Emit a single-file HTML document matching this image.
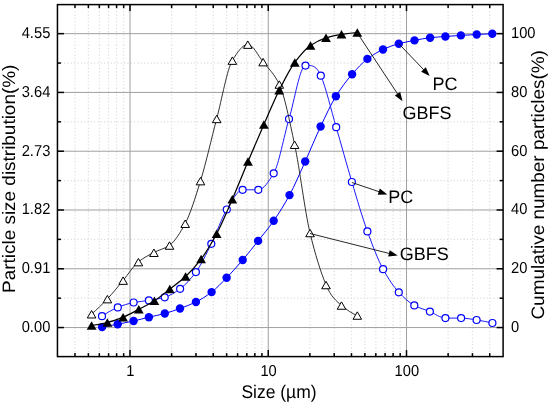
<!DOCTYPE html>
<html><head><meta charset="utf-8"><title>Particle size distribution</title>
<style>
html,body{margin:0;padding:0;background:#fff;}
body{width:550px;height:405px;overflow:hidden;}
svg{display:block;}
</style></head>
<body>
<svg width="550" height="405" viewBox="0 0 550 405">
<rect width="550" height="405" fill="#fff"/>
<g stroke="#dadada" stroke-width="1.2" stroke-dasharray="1.1,2.23" fill="none">
<line x1="74.98" y1="4.6" x2="74.98" y2="356.6"/>
<line x1="88.38" y1="4.6" x2="88.38" y2="356.6"/>
<line x1="99.33" y1="4.6" x2="99.33" y2="356.6"/>
<line x1="108.58" y1="4.6" x2="108.58" y2="356.6"/>
<line x1="116.6" y1="4.6" x2="116.6" y2="356.6"/>
<line x1="123.67" y1="4.6" x2="123.67" y2="356.6"/>
<line x1="171.62" y1="4.6" x2="171.62" y2="356.6"/>
<line x1="195.96" y1="4.6" x2="195.96" y2="356.6"/>
<line x1="213.23" y1="4.6" x2="213.23" y2="356.6"/>
<line x1="226.63" y1="4.6" x2="226.63" y2="356.6"/>
<line x1="237.58" y1="4.6" x2="237.58" y2="356.6"/>
<line x1="246.83" y1="4.6" x2="246.83" y2="356.6"/>
<line x1="254.85" y1="4.6" x2="254.85" y2="356.6"/>
<line x1="261.92" y1="4.6" x2="261.92" y2="356.6"/>
<line x1="309.87" y1="4.6" x2="309.87" y2="356.6"/>
<line x1="334.21" y1="4.6" x2="334.21" y2="356.6"/>
<line x1="351.48" y1="4.6" x2="351.48" y2="356.6"/>
<line x1="364.88" y1="4.6" x2="364.88" y2="356.6"/>
<line x1="375.83" y1="4.6" x2="375.83" y2="356.6"/>
<line x1="385.08" y1="4.6" x2="385.08" y2="356.6"/>
<line x1="393.1" y1="4.6" x2="393.1" y2="356.6"/>
<line x1="400.17" y1="4.6" x2="400.17" y2="356.6"/>
<line x1="448.12" y1="4.6" x2="448.12" y2="356.6"/>
<line x1="472.46" y1="4.6" x2="472.46" y2="356.6"/>
<line x1="489.73" y1="4.6" x2="489.73" y2="356.6"/>
<line x1="57.45" y1="298.16" x2="503.1" y2="298.16"/>
<line x1="57.45" y1="239.38" x2="503.1" y2="239.38"/>
<line x1="57.45" y1="180.6" x2="503.1" y2="180.6"/>
<line x1="57.45" y1="121.82" x2="503.1" y2="121.82"/>
<line x1="57.45" y1="63.04" x2="503.1" y2="63.04"/>
</g>
<g stroke="#a0a0a0" stroke-width="1" fill="none">
<line x1="130" y1="4.6" x2="130" y2="356.6"/>
<line x1="268.25" y1="4.6" x2="268.25" y2="356.6"/>
<line x1="406.5" y1="4.6" x2="406.5" y2="356.6"/>
<line x1="57.45" y1="327.55" x2="503.1" y2="327.55"/>
<line x1="57.45" y1="268.77" x2="503.1" y2="268.77"/>
<line x1="57.45" y1="209.99" x2="503.1" y2="209.99"/>
<line x1="57.45" y1="151.21" x2="503.1" y2="151.21"/>
<line x1="57.45" y1="92.43" x2="503.1" y2="92.43"/>
<line x1="57.45" y1="33.65" x2="503.1" y2="33.65"/>
</g>
<g stroke="#000" stroke-width="1.5" fill="none">
<line x1="74.98" y1="356.6" x2="74.98" y2="353.1"/>
<line x1="74.98" y1="4.6" x2="74.98" y2="8.1"/>
<line x1="88.38" y1="356.6" x2="88.38" y2="353.1"/>
<line x1="88.38" y1="4.6" x2="88.38" y2="8.1"/>
<line x1="99.33" y1="356.6" x2="99.33" y2="353.1"/>
<line x1="99.33" y1="4.6" x2="99.33" y2="8.1"/>
<line x1="108.58" y1="356.6" x2="108.58" y2="353.1"/>
<line x1="108.58" y1="4.6" x2="108.58" y2="8.1"/>
<line x1="116.6" y1="356.6" x2="116.6" y2="353.1"/>
<line x1="116.6" y1="4.6" x2="116.6" y2="8.1"/>
<line x1="123.67" y1="356.6" x2="123.67" y2="353.1"/>
<line x1="123.67" y1="4.6" x2="123.67" y2="8.1"/>
<line x1="130" y1="356.6" x2="130" y2="350.1"/>
<line x1="130" y1="4.6" x2="130" y2="11.1"/>
<line x1="171.62" y1="356.6" x2="171.62" y2="353.1"/>
<line x1="171.62" y1="4.6" x2="171.62" y2="8.1"/>
<line x1="195.96" y1="356.6" x2="195.96" y2="353.1"/>
<line x1="195.96" y1="4.6" x2="195.96" y2="8.1"/>
<line x1="213.23" y1="356.6" x2="213.23" y2="353.1"/>
<line x1="213.23" y1="4.6" x2="213.23" y2="8.1"/>
<line x1="226.63" y1="356.6" x2="226.63" y2="353.1"/>
<line x1="226.63" y1="4.6" x2="226.63" y2="8.1"/>
<line x1="237.58" y1="356.6" x2="237.58" y2="353.1"/>
<line x1="237.58" y1="4.6" x2="237.58" y2="8.1"/>
<line x1="246.83" y1="356.6" x2="246.83" y2="353.1"/>
<line x1="246.83" y1="4.6" x2="246.83" y2="8.1"/>
<line x1="254.85" y1="356.6" x2="254.85" y2="353.1"/>
<line x1="254.85" y1="4.6" x2="254.85" y2="8.1"/>
<line x1="261.92" y1="356.6" x2="261.92" y2="353.1"/>
<line x1="261.92" y1="4.6" x2="261.92" y2="8.1"/>
<line x1="268.25" y1="356.6" x2="268.25" y2="350.1"/>
<line x1="268.25" y1="4.6" x2="268.25" y2="11.1"/>
<line x1="309.87" y1="356.6" x2="309.87" y2="353.1"/>
<line x1="309.87" y1="4.6" x2="309.87" y2="8.1"/>
<line x1="334.21" y1="356.6" x2="334.21" y2="353.1"/>
<line x1="334.21" y1="4.6" x2="334.21" y2="8.1"/>
<line x1="351.48" y1="356.6" x2="351.48" y2="353.1"/>
<line x1="351.48" y1="4.6" x2="351.48" y2="8.1"/>
<line x1="364.88" y1="356.6" x2="364.88" y2="353.1"/>
<line x1="364.88" y1="4.6" x2="364.88" y2="8.1"/>
<line x1="375.83" y1="356.6" x2="375.83" y2="353.1"/>
<line x1="375.83" y1="4.6" x2="375.83" y2="8.1"/>
<line x1="385.08" y1="356.6" x2="385.08" y2="353.1"/>
<line x1="385.08" y1="4.6" x2="385.08" y2="8.1"/>
<line x1="393.1" y1="356.6" x2="393.1" y2="353.1"/>
<line x1="393.1" y1="4.6" x2="393.1" y2="8.1"/>
<line x1="400.17" y1="356.6" x2="400.17" y2="353.1"/>
<line x1="400.17" y1="4.6" x2="400.17" y2="8.1"/>
<line x1="406.5" y1="356.6" x2="406.5" y2="350.1"/>
<line x1="406.5" y1="4.6" x2="406.5" y2="11.1"/>
<line x1="448.12" y1="356.6" x2="448.12" y2="353.1"/>
<line x1="448.12" y1="4.6" x2="448.12" y2="8.1"/>
<line x1="472.46" y1="356.6" x2="472.46" y2="353.1"/>
<line x1="472.46" y1="4.6" x2="472.46" y2="8.1"/>
<line x1="489.73" y1="356.6" x2="489.73" y2="353.1"/>
<line x1="489.73" y1="4.6" x2="489.73" y2="8.1"/>
<line x1="57.45" y1="327.55" x2="63.95" y2="327.55"/>
<line x1="503.1" y1="327.55" x2="496.6" y2="327.55"/>
<line x1="57.45" y1="298.16" x2="60.95" y2="298.16"/>
<line x1="503.1" y1="298.16" x2="499.6" y2="298.16"/>
<line x1="57.45" y1="268.77" x2="63.95" y2="268.77"/>
<line x1="503.1" y1="268.77" x2="496.6" y2="268.77"/>
<line x1="57.45" y1="239.38" x2="60.95" y2="239.38"/>
<line x1="503.1" y1="239.38" x2="499.6" y2="239.38"/>
<line x1="57.45" y1="209.99" x2="63.95" y2="209.99"/>
<line x1="503.1" y1="209.99" x2="496.6" y2="209.99"/>
<line x1="57.45" y1="180.6" x2="60.95" y2="180.6"/>
<line x1="503.1" y1="180.6" x2="499.6" y2="180.6"/>
<line x1="57.45" y1="151.21" x2="63.95" y2="151.21"/>
<line x1="503.1" y1="151.21" x2="496.6" y2="151.21"/>
<line x1="57.45" y1="121.82" x2="60.95" y2="121.82"/>
<line x1="503.1" y1="121.82" x2="499.6" y2="121.82"/>
<line x1="57.45" y1="92.43" x2="63.95" y2="92.43"/>
<line x1="503.1" y1="92.43" x2="496.6" y2="92.43"/>
<line x1="57.45" y1="63.04" x2="60.95" y2="63.04"/>
<line x1="503.1" y1="63.04" x2="499.6" y2="63.04"/>
<line x1="57.45" y1="33.65" x2="63.95" y2="33.65"/>
<line x1="503.1" y1="33.65" x2="496.6" y2="33.65"/>
</g>
<path d="M102.1,327.1 C107.3,326.17 112.5,325.2 117.7,324.2 C123,323.18 128.3,322.18 133.6,321 C138.7,319.87 143.8,318.43 148.9,317.2 C154.2,315.93 159.5,314.95 164.8,313.5 C169.87,312.12 174.93,310.35 180,308.5 C185.3,306.57 190.6,304.63 195.9,302 C201.13,299.4 206.37,296.08 211.6,292.1 C216.6,288.3 221.6,282.91 226.6,277.8 C231.97,272.31 237.33,266.28 242.7,260 C247.83,254 252.97,247.39 258.1,240.9 C263.3,234.33 268.5,228.28 273.7,220.8 C278.97,213.23 284.23,204.84 289.5,195.1 C294.73,185.43 299.97,173.04 305.2,161.5 C310.33,150.18 315.47,137.34 320.6,126.5 C325.7,115.73 330.8,104.54 335.9,96.3 C341.3,87.57 346.7,80.42 352.1,74.2 C357.2,68.32 362.3,62.74 367.4,58.9 C372.6,54.99 377.8,51.87 383,49.5 C388.27,47.1 393.53,45.11 398.8,43.7 C404.03,42.3 409.27,41.39 414.5,40.4 C419.7,39.41 424.9,38.26 430.1,37.7 C435.2,37.15 440.3,36.88 445.4,36.5 C450.57,36.11 455.73,35.73 460.9,35.4 C466.17,35.07 471.43,34.78 476.7,34.5 C481.9,34.22 487.1,33.95 492.3,33.7" fill="none" stroke="#0000ff" stroke-width="1.0"/>
<g fill="#0000ff">
<circle cx="102.1" cy="327.1" r="4.2"/>
<circle cx="117.7" cy="324.2" r="4.2"/>
<circle cx="133.6" cy="321" r="4.2"/>
<circle cx="148.9" cy="317.2" r="4.2"/>
<circle cx="164.8" cy="313.5" r="4.2"/>
<circle cx="180" cy="308.5" r="4.2"/>
<circle cx="195.9" cy="302" r="4.2"/>
<circle cx="211.6" cy="292.1" r="4.2"/>
<circle cx="226.6" cy="277.8" r="4.2"/>
<circle cx="242.7" cy="260" r="4.2"/>
<circle cx="258.1" cy="240.9" r="4.2"/>
<circle cx="273.7" cy="220.8" r="4.2"/>
<circle cx="289.5" cy="195.1" r="4.2"/>
<circle cx="305.2" cy="161.5" r="4.2"/>
<circle cx="320.6" cy="126.5" r="4.2"/>
<circle cx="335.9" cy="96.3" r="4.2"/>
<circle cx="352.1" cy="74.2" r="4.2"/>
<circle cx="367.4" cy="58.9" r="4.2"/>
<circle cx="383" cy="49.5" r="4.2"/>
<circle cx="398.8" cy="43.7" r="4.2"/>
<circle cx="414.5" cy="40.4" r="4.2"/>
<circle cx="430.1" cy="37.7" r="4.2"/>
<circle cx="445.4" cy="36.5" r="4.2"/>
<circle cx="460.9" cy="35.4" r="4.2"/>
<circle cx="476.7" cy="34.5" r="4.2"/>
<circle cx="492.3" cy="33.7" r="4.2"/>
</g>
<path d="M102,316.2 C107.27,312.62 112.53,309.5 117.8,307.4 C123.07,305.3 128.33,303.5 133.6,302.5 C138.7,301.53 143.8,301.22 148.9,300.4 C154.17,299.55 159.43,298.83 164.7,297.3 C169.83,295.81 174.97,292.52 180.1,288.8 C185.37,284.99 190.63,279.18 195.9,272.1 C201.03,265.2 206.17,254.11 211.3,243.8 C216.47,233.43 221.63,217.75 226.8,209.5 C232.07,201.09 237.33,189.8 242.6,189.8 C247.83,189.8 253.07,189.8 258.3,189.8 C263.43,189.8 268.57,181.75 273.7,173.3 C278.8,164.9 283.9,136.28 289,119 C294.5,100.37 300,65.6 305.5,65.6 C310.6,65.6 315.7,63.97 320.8,75.7 C325.93,87.51 331.07,109.67 336.2,127.2 C341.43,145.07 346.67,164.56 351.9,182 C357.07,199.21 362.23,217.22 367.4,231.4 C372.63,245.76 377.87,259.64 383.1,269.2 C388.33,278.76 393.57,286.68 398.8,292.3 C403.97,297.84 409.13,302.61 414.3,305.4 C419.5,308.21 424.7,309.48 429.9,311.6 C435.07,313.71 440.23,318.1 445.4,318.1 C450.63,318.1 455.87,318.1 461.1,318.1 C466.27,318.1 471.43,319.23 476.6,320 C481.87,320.78 487.13,321.82 492.4,323" fill="none" stroke="#1a1aff" stroke-width="1.0"/>
<g fill="#fff" stroke="#0000ff" stroke-width="1.2">
<circle cx="102" cy="316.2" r="3.5"/>
<circle cx="117.8" cy="307.4" r="3.5"/>
<circle cx="133.6" cy="302.5" r="3.5"/>
<circle cx="148.9" cy="300.4" r="3.5"/>
<circle cx="164.7" cy="297.3" r="3.5"/>
<circle cx="180.1" cy="288.8" r="3.5"/>
<circle cx="195.9" cy="272.1" r="3.5"/>
<circle cx="211.3" cy="243.8" r="3.5"/>
<circle cx="226.8" cy="209.5" r="3.5"/>
<circle cx="242.6" cy="189.8" r="3.5"/>
<circle cx="258.3" cy="189.8" r="3.5"/>
<circle cx="273.7" cy="173.3" r="3.5"/>
<circle cx="289" cy="119" r="3.5"/>
<circle cx="305.5" cy="65.6" r="3.5"/>
<circle cx="320.8" cy="75.7" r="3.5"/>
<circle cx="336.2" cy="127.2" r="3.5"/>
<circle cx="351.9" cy="182" r="3.5"/>
<circle cx="367.4" cy="231.4" r="3.5"/>
<circle cx="383.1" cy="269.2" r="3.5"/>
<circle cx="398.8" cy="292.3" r="3.5"/>
<circle cx="414.3" cy="305.4" r="3.5"/>
<circle cx="429.9" cy="311.6" r="3.5"/>
<circle cx="445.4" cy="318.1" r="3.5"/>
<circle cx="461.1" cy="318.1" r="3.5"/>
<circle cx="476.6" cy="320" r="3.5"/>
<circle cx="492.4" cy="323" r="3.5"/>
</g>
<path d="M91.6,314 C96.87,309.55 102.13,304.46 107.4,298.9 C112.63,293.38 117.87,286.65 123.1,280.4 C128.2,274.31 133.3,266.02 138.4,261.9 C143.57,257.72 148.73,255.21 153.9,252.5 C159.1,249.77 164.3,248.9 169.5,245.3 C174.73,241.68 179.97,233.21 185.2,223.5 C190.3,214.04 195.4,197.34 200.5,180.9 C205.9,163.5 211.3,139.09 216.7,118.7 C221.93,98.94 227.17,68.88 232.4,60.4 C237.53,52.08 242.67,44.4 247.8,44.4 C252.9,44.4 258,55.52 263.1,61.9 C268.5,68.65 273.9,73.2 279.3,84.3 C284.4,94.78 289.5,120.7 294.6,144.5 C299.73,168.45 304.87,211.47 310,232.8 C315.33,254.96 320.67,272 326,284.8 C331.17,297.2 336.33,300.87 341.5,305.3 C346.77,309.81 352.03,313.8 357.3,315.3" fill="none" stroke="#1a1a1a" stroke-width="0.9"/>
<g fill="#fff" stroke="#000" stroke-width="1">
<path d="M91.6,310.53 L95.9,317.97 L87.3,317.97 Z"/>
<path d="M107.4,295.43 L111.7,302.87 L103.1,302.87 Z"/>
<path d="M123.1,276.93 L127.4,284.37 L118.8,284.37 Z"/>
<path d="M138.4,258.43 L142.7,265.87 L134.1,265.87 Z"/>
<path d="M153.9,249.03 L158.2,256.47 L149.6,256.47 Z"/>
<path d="M169.5,241.83 L173.8,249.27 L165.2,249.27 Z"/>
<path d="M185.2,220.03 L189.5,227.47 L180.9,227.47 Z"/>
<path d="M200.5,177.43 L204.8,184.87 L196.2,184.87 Z"/>
<path d="M216.7,115.23 L221,122.67 L212.4,122.67 Z"/>
<path d="M232.4,56.93 L236.7,64.37 L228.1,64.37 Z"/>
<path d="M247.8,40.93 L252.1,48.37 L243.5,48.37 Z"/>
<path d="M263.1,58.43 L267.4,65.87 L258.8,65.87 Z"/>
<path d="M279.3,80.83 L283.6,88.27 L275,88.27 Z"/>
<path d="M294.6,141.03 L298.9,148.47 L290.3,148.47 Z"/>
<path d="M310,229.33 L314.3,236.77 L305.7,236.77 Z"/>
<path d="M326,281.33 L330.3,288.77 L321.7,288.77 Z"/>
<path d="M341.5,301.83 L345.8,309.27 L337.2,309.27 Z"/>
<path d="M357.3,311.83 L361.6,319.27 L353,319.27 Z"/>
</g>
<path d="M91.6,325.5 C96.87,324.89 102.13,323.78 107.4,322.5 C112.63,321.23 117.87,319.31 123.1,317.2 C128.33,315.09 133.57,312.04 138.8,309.3 C144,306.58 149.2,304.11 154.4,300.8 C159.53,297.53 164.67,293 169.8,289 C175.07,284.9 180.33,281.39 185.6,276.5 C190.77,271.7 195.93,265.97 201.1,259.1 C206.27,252.23 211.43,243.49 216.6,233.8 C221.83,223.99 227.07,211.24 232.3,199.2 C237.53,187.16 242.77,173.77 248,161.4 C253.3,148.87 258.6,136.59 263.9,124.5 C269,112.87 274.1,100.33 279.2,90.2 C284.4,79.87 289.6,69.38 294.8,62.4 C300.03,55.37 305.27,49.05 310.5,45.5 C315.67,41.99 320.83,39.39 326,37.8 C331.17,36.21 336.33,35.14 341.5,34.35 C346.77,33.54 352.03,32.84 357.3,32.5" fill="none" stroke="#000" stroke-width="1.25"/>
<g fill="#000">
<path d="M91.6,321.26 L96.5,329.74 L86.7,329.74 Z"/>
<path d="M107.4,318.26 L112.3,326.74 L102.5,326.74 Z"/>
<path d="M123.1,312.96 L128,321.44 L118.2,321.44 Z"/>
<path d="M138.8,305.06 L143.7,313.54 L133.9,313.54 Z"/>
<path d="M154.4,296.56 L159.3,305.04 L149.5,305.04 Z"/>
<path d="M169.8,284.76 L174.7,293.24 L164.9,293.24 Z"/>
<path d="M185.6,272.26 L190.5,280.74 L180.7,280.74 Z"/>
<path d="M201.1,254.86 L206,263.34 L196.2,263.34 Z"/>
<path d="M216.6,229.56 L221.5,238.04 L211.7,238.04 Z"/>
<path d="M232.3,194.96 L237.2,203.44 L227.4,203.44 Z"/>
<path d="M248,157.16 L252.9,165.64 L243.1,165.64 Z"/>
<path d="M263.9,120.26 L268.8,128.74 L259,128.74 Z"/>
<path d="M279.2,85.96 L284.1,94.44 L274.3,94.44 Z"/>
<path d="M294.8,58.16 L299.7,66.64 L289.9,66.64 Z"/>
<path d="M310.5,41.26 L315.4,49.74 L305.6,49.74 Z"/>
<path d="M326,33.56 L330.9,42.04 L321.1,42.04 Z"/>
<path d="M341.5,30.11 L346.4,38.59 L336.6,38.59 Z"/>
<path d="M357.3,28.26 L362.2,36.74 L352.4,36.74 Z"/>
</g>
<rect x="57.45" y="4.6" width="445.65" height="352" fill="none" stroke="#000" stroke-width="1.5"/>
<line x1="398.8" y1="43.7" x2="424.17" y2="70.22" stroke="#111" stroke-width="0.9"/><path d="M429.7,76 L421.17,71.71 L425.79,67.28 Z" fill="#000"/>
<line x1="357.3" y1="33" x2="398.08" y2="94.63" stroke="#111" stroke-width="0.9"/><path d="M402.5,101.3 L394.86,95.56 L400.2,92.03 Z" fill="#000"/>
<line x1="351.9" y1="182.5" x2="379.72" y2="191.93" stroke="#111" stroke-width="0.9"/><path d="M387.3,194.5 L377.75,194.64 L379.8,188.58 Z" fill="#000"/>
<line x1="310" y1="233.5" x2="389.94" y2="253.65" stroke="#111" stroke-width="0.9"/><path d="M397.7,255.6 L388.19,256.5 L389.75,250.3 Z" fill="#000"/>
<g font-family="'Liberation Sans', Arial, sans-serif" fill="#000" text-rendering="geometricPrecision">
<text transform="translate(432.5,90)" font-size="18">PC</text>
<text transform="translate(402.5,119)" font-size="18">GBFS</text>
<text transform="translate(388.3,203)" font-size="18">PC</text>
<text transform="translate(399.8,260.4)" font-size="18">GBFS</text>
<text transform="translate(50.3,332.05) scale(0.93,1)" font-size="15.8" text-anchor="end">0.00</text>
<text transform="translate(50.3,273.27) scale(0.93,1)" font-size="15.8" text-anchor="end">0.91</text>
<text transform="translate(50.3,214.49) scale(0.93,1)" font-size="15.8" text-anchor="end">1.82</text>
<text transform="translate(50.3,155.71) scale(0.93,1)" font-size="15.8" text-anchor="end">2.73</text>
<text transform="translate(50.3,96.93) scale(0.93,1)" font-size="15.8" text-anchor="end">3.64</text>
<text transform="translate(50.3,38.15) scale(0.93,1)" font-size="15.8" text-anchor="end">4.55</text>
<text transform="translate(511,332.05) scale(0.93,1)" font-size="15.8">0</text>
<text transform="translate(511,273.27) scale(0.93,1)" font-size="15.8">20</text>
<text transform="translate(511,214.49) scale(0.93,1)" font-size="15.8">40</text>
<text transform="translate(511,155.71) scale(0.93,1)" font-size="15.8">60</text>
<text transform="translate(511,96.93) scale(0.93,1)" font-size="15.8">80</text>
<text transform="translate(511,38.15) scale(0.93,1)" font-size="15.8">100</text>
<text transform="translate(130.3,376.4) scale(0.93,1)" font-size="15.8" text-anchor="middle">1</text>
<text transform="translate(268.55,376.4) scale(0.93,1)" font-size="15.8" text-anchor="middle">10</text>
<text transform="translate(406.8,376.4) scale(0.93,1)" font-size="15.8" text-anchor="middle">100</text>
<text transform="translate(279,397.6) scale(0.957,1)" font-size="18.3" text-anchor="middle">Size (µm)</text>
<text transform="translate(14.6,178.8) rotate(-90) scale(1.052,1)" font-size="18" text-anchor="middle">Particle size distribution(%)</text>
<text transform="translate(543.7,184.85) rotate(-90) scale(1.052,1)" font-size="18" text-anchor="middle">Cumulative number particles(%)</text>
</g>
</svg>
</body></html>
